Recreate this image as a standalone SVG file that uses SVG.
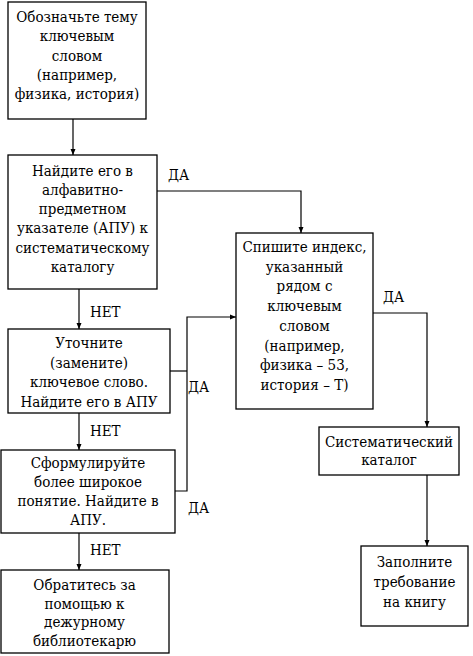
<svg xmlns="http://www.w3.org/2000/svg" width="473" height="656" viewBox="0 0 473 656">
<style>
.box{fill:#fff;stroke:#000;stroke-width:1.3}
.t{font-family:"DejaVu Serif Condensed","DejaVu Serif",serif;font-size:15px;fill:#000;text-anchor:middle}
.l{font-family:"DejaVu Serif Condensed","DejaVu Serif",serif;font-size:15px;fill:#000}
.c{fill:none;stroke:#000;stroke-width:1.2}
</style>
<defs>
<marker id="ah" markerUnits="userSpaceOnUse" markerWidth="6" markerHeight="6" refX="6" refY="3" orient="auto">
<path d="M0,0.5 L6,3 L0,5.5 z" fill="#000"/>
</marker>
</defs>
<rect width="473" height="656" fill="#fff"/>
<g id="connectors">
<path class="c" d="M73,119 V155" marker-end="url(#ah)"/>
<path class="c" d="M157,191 H301 V233" marker-end="url(#ah)"/>
<path class="c" d="M79,289 V329" marker-end="url(#ah)"/>
<path class="c" d="M170,371 H187"/>
<path class="c" d="M175,491 H187 V317 H236" marker-end="url(#ah)"/>
<path class="c" d="M79,413 V450" marker-end="url(#ah)"/>
<path class="c" d="M79,533 V570" marker-end="url(#ah)"/>
<path class="c" d="M373,313 H427 V427" marker-end="url(#ah)"/>
<path class="c" d="M427,475 V546" marker-end="url(#ah)"/>
<text class="l" x="168" y="180">ДА</text>
<text class="l" x="383" y="302">ДА</text>
<text class="l" x="188" y="392">ДА</text>
<text class="l" x="188" y="513">ДА</text>
<text class="l" x="90" y="317">НЕТ</text>
<text class="l" x="90" y="436">НЕТ</text>
<text class="l" x="90" y="555">НЕТ</text>
</g>
<g id="n1">
<rect class="box" x="8" y="2" width="138" height="117"/>
<text class="t"><tspan x="77" y="22">Обозначьте тему</tspan><tspan x="77" y="41.3">ключевым</tspan><tspan x="77" y="60.6">словом</tspan><tspan x="77" y="79.9">(например,</tspan><tspan x="77" y="99.2">физика, история)</tspan></text>
</g>
<g id="n2">
<rect class="box" x="8" y="155" width="149" height="134"/>
<text class="t"><tspan x="82.5" y="175.7">Найдите его в</tspan><tspan x="82.5" y="194.9">алфавитно-</tspan><tspan x="82.5" y="214.1">предметном</tspan><tspan x="82.5" y="233.3">указателе (АПУ) к</tspan><tspan x="82.5" y="252.5">систематическому</tspan><tspan x="82.5" y="271.7">каталогу</tspan></text>
</g>
<g id="n3">
<rect class="box" x="236" y="233" width="137" height="176"/>
<text class="t"><tspan x="304.5" y="251.7">Спишите индекс,</tspan><tspan x="304.5" y="271.5">указанный</tspan><tspan x="304.5" y="291.2">рядом с</tspan><tspan x="304.5" y="311">ключевым</tspan><tspan x="304.5" y="330.7">словом</tspan><tspan x="304.5" y="350.5">(например,</tspan><tspan x="304.5" y="370.2">физика – 53,</tspan><tspan x="304.5" y="390">история – Т)</tspan></text>
</g>
<g id="n4">
<rect class="box" x="319" y="427" width="140" height="48"/>
<text class="t"><tspan x="389" y="446.7">Систематический</tspan><tspan x="389" y="465">каталог</tspan></text>
</g>
<g id="n5">
<rect class="box" x="361" y="546" width="107" height="80"/>
<text class="t"><tspan x="414.5" y="566.7">Заполните</tspan><tspan x="414.5" y="586.7">требование</tspan><tspan x="414.5" y="606.7">на книгу</tspan></text>
</g>
<g id="n6">
<rect class="box" x="8" y="329" width="162" height="84"/>
<text class="t"><tspan x="89" y="348.3">Уточните</tspan><tspan x="89" y="367.7">(замените)</tspan><tspan x="89" y="387.1">ключевое слово.</tspan><tspan x="89" y="406.5">Найдите его в АПУ</tspan></text>
</g>
<g id="n7">
<rect class="box" x="1" y="450" width="174" height="83"/>
<text class="t"><tspan x="88" y="468.3">Сформулируйте</tspan><tspan x="88" y="487.2">более широкое</tspan><tspan x="88" y="506.1">понятие. Найдите в</tspan><tspan x="88" y="525">АПУ.</tspan></text>
</g>
<g id="n8">
<rect class="box" x="1" y="570" width="168" height="83"/>
<text class="t"><tspan x="84.5" y="590">Обратитесь за</tspan><tspan x="84.5" y="608.7">помощью к</tspan><tspan x="84.5" y="627.4">дежурному</tspan><tspan x="84.5" y="646">библиотекарю</tspan></text>
</g>
</svg>
